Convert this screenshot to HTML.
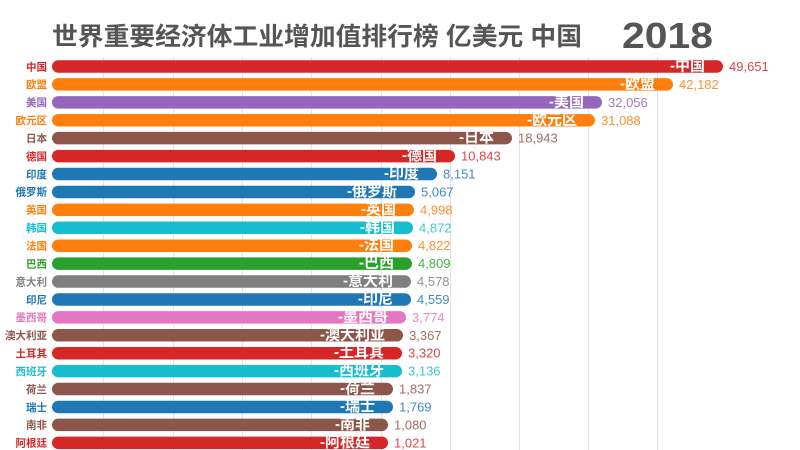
<!DOCTYPE html>
<html><head><meta charset="utf-8"><style>
html,body{margin:0;padding:0;background:#fff;}
svg{display:block;}
.lab{font-family:"Liberation Sans","Noto Sans CJK SC",sans-serif;font-weight:bold;font-size:10.5px;text-anchor:end;}
.in{font-family:"Liberation Sans","Noto Sans CJK SC",sans-serif;font-weight:bold;font-size:15px;fill:#fff;text-anchor:end;}
.val{font-family:"Liberation Sans","Noto Sans CJK SC",sans-serif;font-size:13px;}
</style></head><body>
<svg width="800" height="450" viewBox="0 0 800 450" xmlns="http://www.w3.org/2000/svg">
<rect width="800" height="450" fill="#fff"/>
<g stroke="#e4e4e4" stroke-width="1">
<line x1="103.5" y1="57" x2="103.5" y2="450"/>
<line x1="173.5" y1="57" x2="173.5" y2="450"/>
<line x1="242.5" y1="57" x2="242.5" y2="450"/>
<line x1="311.5" y1="57" x2="311.5" y2="450"/>
<line x1="381.5" y1="57" x2="381.5" y2="450"/>
<line x1="450.5" y1="57" x2="450.5" y2="450"/>
<line x1="519.5" y1="57" x2="519.5" y2="450"/>
<line x1="588.5" y1="57" x2="588.5" y2="450"/>
<line x1="657.5" y1="57" x2="657.5" y2="450"/>
</g>
<text x="52" y="45" font-family="'Liberation Sans','Noto Sans CJK SC',sans-serif" font-weight="bold" font-size="25" fill="#555" textLength="530" lengthAdjust="spacingAndGlyphs">世界重要经济体工业增加值排行榜 亿美元 中国</text>
<text x="622" y="48" font-family="'Liberation Sans',sans-serif" font-weight="bold" font-size="36" fill="#555" textLength="91" lengthAdjust="spacingAndGlyphs">2018</text>
<g id="rows"></g>
</svg>
<script>
var rows=[
["中国","49,651",723,"#d62728"],
["欧盟","42,182",673,"#ff7f0e"],
["美国","32,056",602,"#9467bd"],
["欧元区","31,088",595,"#ff7f0e"],
["日本","18,943",512,"#8c564b"],
["德国","10,843",455,"#d62728"],
["印度","8,151",437,"#1f77b4"],
["俄罗斯","5,067",415,"#1f77b4"],
["英国","4,998",414,"#ff7f0e"],
["韩国","4,872",413,"#17becf"],
["法国","4,822",412,"#ff7f0e"],
["巴西","4,809",412,"#2ca02c"],
["意大利","4,578",411,"#7f7f7f"],
["印尼","4,559",411,"#1f77b4"],
["墨西哥","3,774",406,"#e377c2"],
["澳大利亚","3,367",403,"#8c564b"],
["土耳其","3,320",402,"#d62728"],
["西班牙","3,136",402,"#17becf"],
["荷兰","1,837",393,"#8c564b"],
["瑞士","1,769",393,"#1f77b4"],
["南非","1,080",388,"#8c564b"],
["阿根廷","1,021",388,"#d62728"]
];
var g=document.getElementById("rows"),ns="http://www.w3.org/2000/svg",h="";
rows.forEach(function(r,i){
 var c=66.5+i*17.92,x0=52,e=r[2],t=12.5;
 h+='<rect x="'+x0+'" y="'+(c-t/2)+'" width="'+(e-x0)+'" height="'+t+'" rx="6.25" ry="6.25" fill="'+r[3]+'"/>';
 h+='<text class="lab" x="47" y="'+(c+3.8)+'" fill="'+r[3]+'">'+r[0]+'</text>';
 h+='<text class="in" x="'+(e-18)+'" y="'+(c+4)+'">-'+r[0]+'</text>';
 h+='<text class="val" x="'+(e+6)+'" y="'+(c+4.5)+'" fill="'+r[3]+'" fill-opacity="0.85">'+r[1]+'</text>';
});
g.innerHTML=h;
</script>
</body></html>
